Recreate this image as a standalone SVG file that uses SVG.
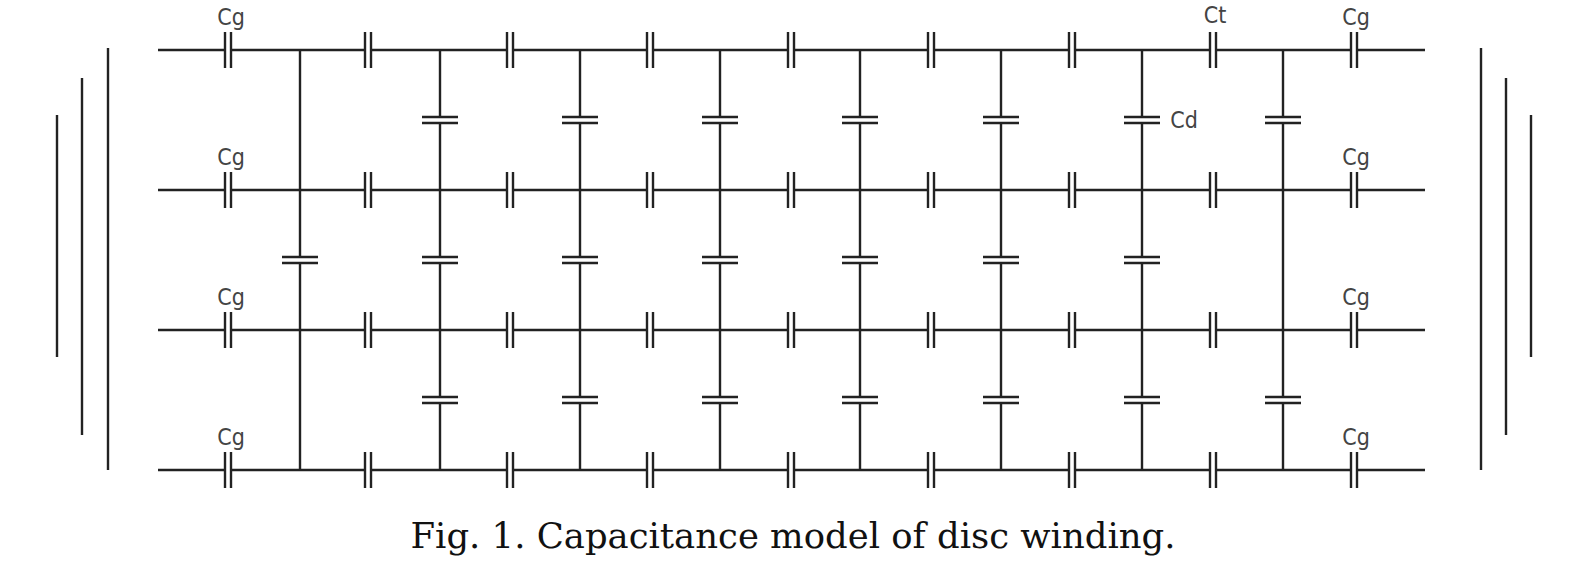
<svg xmlns="http://www.w3.org/2000/svg" width="1575" height="585" viewBox="0 0 1575 585">
<style>
line{stroke:#222;stroke-width:2.4}
.w{stroke:#fff;stroke-width:6}
.l{font-family:"DejaVu Sans Condensed","Liberation Sans Narrow",sans-serif;font-size:23px;fill:#444}
.cap{font-family:"DejaVu Serif","Liberation Serif",serif;font-size:36px;fill:#111}
</style>
<defs>
<g id="hc"><line class="w" x1="-3" y1="0" x2="3" y2="0"/><line x1="-3" y1="-18" x2="-3" y2="18"/><line x1="3" y1="-18" x2="3" y2="18"/></g>
<g id="vc"><line class="w" x1="0" y1="-3" x2="0" y2="3"/><line x1="-18" y1="-3" x2="18" y2="-3"/><line x1="-18" y1="3" x2="18" y2="3"/></g>
</defs>
<rect width="1575" height="585" fill="#fff"/>
<g id="connectors">
<line x1="158" y1="50" x2="1425" y2="50"/><line x1="158" y1="190" x2="1425" y2="190"/>
<line x1="158" y1="330" x2="1425" y2="330"/><line x1="158" y1="470" x2="1425" y2="470"/>
<line x1="300" y1="50" x2="300" y2="470"/><line x1="440" y1="50" x2="440" y2="470"/>
<line x1="580" y1="50" x2="580" y2="470"/><line x1="720" y1="50" x2="720" y2="470"/>
<line x1="860" y1="50" x2="860" y2="470"/><line x1="1001" y1="50" x2="1001" y2="470"/>
<line x1="1142" y1="50" x2="1142" y2="470"/><line x1="1283" y1="50" x2="1283" y2="470"/>
</g>
<g id="hcaps">
<use href="#hc" x="228" y="50"/><use href="#hc" x="368" y="50"/><use href="#hc" x="510" y="50"/><use href="#hc" x="650" y="50"/><use href="#hc" x="791" y="50"/><use href="#hc" x="931" y="50"/><use href="#hc" x="1072" y="50"/><use href="#hc" x="1213" y="50"/><use href="#hc" x="1354" y="50"/>
<use href="#hc" x="228" y="190"/><use href="#hc" x="368" y="190"/><use href="#hc" x="510" y="190"/><use href="#hc" x="650" y="190"/><use href="#hc" x="791" y="190"/><use href="#hc" x="931" y="190"/><use href="#hc" x="1072" y="190"/><use href="#hc" x="1213" y="190"/><use href="#hc" x="1354" y="190"/>
<use href="#hc" x="228" y="330"/><use href="#hc" x="368" y="330"/><use href="#hc" x="510" y="330"/><use href="#hc" x="650" y="330"/><use href="#hc" x="791" y="330"/><use href="#hc" x="931" y="330"/><use href="#hc" x="1072" y="330"/><use href="#hc" x="1213" y="330"/><use href="#hc" x="1354" y="330"/>
<use href="#hc" x="228" y="470"/><use href="#hc" x="368" y="470"/><use href="#hc" x="510" y="470"/><use href="#hc" x="650" y="470"/><use href="#hc" x="791" y="470"/><use href="#hc" x="931" y="470"/><use href="#hc" x="1072" y="470"/><use href="#hc" x="1213" y="470"/><use href="#hc" x="1354" y="470"/>
</g>
<g id="vcaps">
<use href="#vc" x="440" y="120"/><use href="#vc" x="580" y="120"/><use href="#vc" x="720" y="120"/><use href="#vc" x="860" y="120"/><use href="#vc" x="1001" y="120"/><use href="#vc" x="1142" y="120"/><use href="#vc" x="1283" y="120"/>
<use href="#vc" x="300" y="260"/><use href="#vc" x="440" y="260"/><use href="#vc" x="580" y="260"/><use href="#vc" x="720" y="260"/><use href="#vc" x="860" y="260"/><use href="#vc" x="1001" y="260"/><use href="#vc" x="1142" y="260"/>
<use href="#vc" x="440" y="400"/><use href="#vc" x="580" y="400"/><use href="#vc" x="720" y="400"/><use href="#vc" x="860" y="400"/><use href="#vc" x="1001" y="400"/><use href="#vc" x="1142" y="400"/><use href="#vc" x="1283" y="400"/>
</g>
<g id="plates">
<line x1="57" y1="115" x2="57" y2="357"/><line x1="82" y1="78" x2="82" y2="435"/><line x1="108" y1="48" x2="108" y2="470"/>
<line x1="1481" y1="48" x2="1481" y2="470"/><line x1="1506" y1="78" x2="1506" y2="435"/><line x1="1531" y1="115" x2="1531" y2="357"/>
</g>
<g id="labels" class="l" text-anchor="middle">
<text x="231" y="25">Cg</text><text x="231" y="165">Cg</text><text x="231" y="305">Cg</text><text x="231" y="445">Cg</text>
<text x="1356" y="25">Cg</text><text x="1356" y="165">Cg</text><text x="1356" y="305">Cg</text><text x="1356" y="445">Cg</text>
<text x="1215" y="23">Ct</text><text x="1184" y="128">Cd</text>
</g>
<text class="cap" x="793" y="548" text-anchor="middle" textLength="765" lengthAdjust="spacingAndGlyphs">Fig. 1. Capacitance model of disc winding.</text>
</svg>
